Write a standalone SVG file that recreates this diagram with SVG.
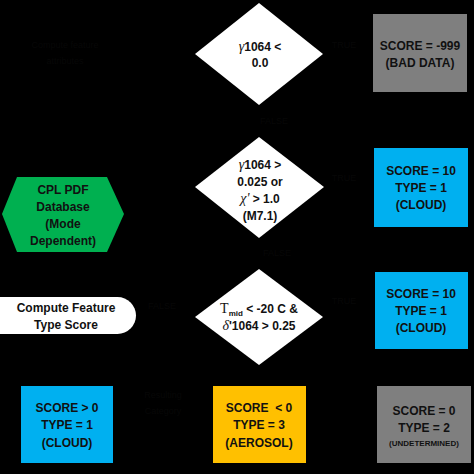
<svg xmlns="http://www.w3.org/2000/svg" width="474" height="474" viewBox="0 0 474 474">
<defs>
<style>
.t{font-family:"Liberation Sans",Arial,sans-serif;font-weight:bold;font-size:12px;fill:#111;text-anchor:middle}
.s{font-family:"Liberation Serif","Times New Roman",serif;font-weight:normal}
.h{font-family:"Liberation Sans",Arial,sans-serif;font-size:9px;fill:#070707;text-anchor:middle}
.dia{fill:#fff}
.gray{fill:#7f7f7f}
.blue{fill:#00b0f0}
.yel{fill:#ffc000}
.c{stroke:#000;stroke-width:1.5;fill:none;marker-end:url(#ah)}
</style>
<marker id="ah" markerWidth="8" markerHeight="8" refX="7" refY="4" orient="auto"><path d="M0,0 L8,4 L0,8 z" fill="#000"/></marker>
</defs>
<rect width="474" height="474" fill="#000"/>
<g id="connectors">
<path class="c" d="M140,54 H193"/>
<path class="c" d="M324,54 H371"/>
<path class="c" d="M259,105 V135"/>
<path class="c" d="M324,187 H372"/>
<path class="c" d="M259,238 V266"/>
<path class="c" d="M124,214 L195,187"/>
<path class="c" d="M324,317 H373"/>
<path class="c" d="M195,317 H138"/>
<path class="c" d="M67,334 V384"/>
<path class="c" d="M115,424 H211"/>
<g>
<text class="h" x="344" y="48">TRUE</text>
<text class="h" x="274" y="124">FALSE</text>
<text class="h" x="344" y="181">TRUE</text>
<text class="h" x="277" y="256">FALSE</text>
<text class="h" x="344" y="304">TRUE</text>
<text class="h" x="162" y="309">FALSE</text>
</g>
</g>
<g id="label-top-left">
<text class="h" x="65" y="48">Compute feature</text>
<text class="h" x="65" y="64">attributes</text>
</g>
<g id="label-bottom">
<text class="h" x="163" y="398">Resulting</text>
<text class="h" x="163" y="414">Category</text>
</g>
<g id="d1">
<polygon class="dia" points="259,3 323,54 259,105 195,54"/>
<text class="t" x="260" y="51"><tspan class="s" font-style="italic" style="font-size:14px">γ</tspan>1064 &lt;</text>
<text class="t" x="260" y="67">0.0</text>
</g>
<g id="bad">
<rect class="gray" x="373" y="14" width="94" height="78"/>
<text class="t" x="420" y="50">SCORE = -999</text>
<text class="t" x="420" y="67">(BAD DATA)</text>
</g>
<g id="d2">
<polygon class="dia" points="259,137 324,187 259,238 195,187"/>
<text class="t" x="260" y="169"><tspan class="s" font-style="italic" style="font-size:14px">γ</tspan>1064 &gt;</text>
<text class="t" x="260" y="186">0.025 or</text>
<text class="t" x="260" y="203"><tspan class="s" font-style="italic" style="font-size:14px">χ'</tspan> &gt; 1.0</text>
<text class="t" x="260" y="220">(M7.1)</text>
</g>
<g id="cloud1">
<rect class="blue" x="374" y="148" width="94" height="79"/>
<text class="t" x="421" y="175">SCORE = 10</text>
<text class="t" x="421" y="192">TYPE = 1</text>
<text class="t" x="421" y="209">(CLOUD)</text>
</g>
<g id="pdf">
<polygon fill="#00b050" points="17,177 107,177 124,214 107,252 17,252 2,214"/>
<text class="t" x="63" y="194">CPL PDF</text>
<text class="t" x="63" y="211">Database</text>
<text class="t" x="63" y="228">(Mode</text>
<text class="t" x="63" y="245">Dependent)</text>
</g>
<g id="compute">
<rect x="-20" y="297" width="156" height="37" rx="18.5" fill="#fff"/>
<text class="t" x="66" y="312">Compute Feature</text>
<text class="t" x="66" y="329">Type Score</text>
</g>
<g id="d3">
<polygon class="dia" points="259,269 323,317 259,365 195,317"/>
<text class="t" x="259" y="313"><tspan class="s" style="font-size:14px">T</tspan><tspan style="font-size:8px" dy="3">mid</tspan><tspan dy="-3"> &lt; -20 C &amp;</tspan></text>
<text class="t" x="259" y="330"><tspan class="s" font-style="italic" style="font-size:14px">δ</tspan>'1064 &gt; 0.25</text>
</g>
<g id="cloud2">
<rect class="blue" x="375" y="272" width="93" height="77"/>
<text class="t" x="421" y="298">SCORE = 10</text>
<text class="t" x="421" y="315">TYPE = 1</text>
<text class="t" x="421" y="332">(CLOUD)</text>
</g>
<g id="cloud3">
<rect class="blue" x="21" y="386" width="92" height="77"/>
<text class="t" x="67" y="412">SCORE &gt; 0</text>
<text class="t" x="67" y="429">TYPE = 1</text>
<text class="t" x="67" y="447">(CLOUD)</text>
</g>
<g id="aerosol">
<rect class="yel" x="213" y="386" width="93" height="77"/>
<text class="t" x="259" y="412" xml:space="preserve">SCORE  &lt; 0</text>
<text class="t" x="259" y="429">TYPE = 3</text>
<text class="t" x="259" y="447">(AEROSOL)</text>
</g>
<g id="undetermined">
<rect class="gray" x="377" y="386" width="94" height="77"/>
<text class="t" x="424" y="415">SCORE = 0</text>
<text class="t" x="424" y="432">TYPE = 2</text>
<text class="t" x="424" y="446" style="font-size:8px">(UNDETERMINED)</text>
</g>
</svg>
